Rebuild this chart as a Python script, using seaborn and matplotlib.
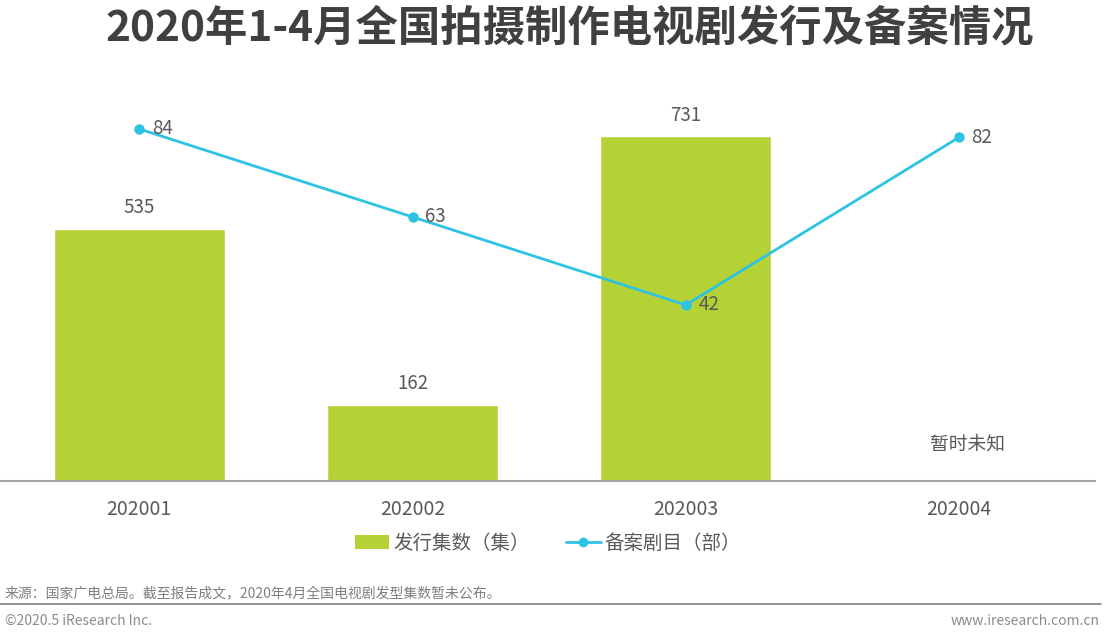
import matplotlib
matplotlib.use("Agg")
import matplotlib.pyplot as plt
import seaborn as sns
import pandas as pd
from matplotlib.patches import Patch
from matplotlib.lines import Line2D

months = ["202001", "202002", "202003", "202004"]
episodes = [535, 162, 731, None]      # 发行集数（集）
records = [84, 63, 42, 82]            # 备案剧目（部）
bar_label = "发行集数（集）"
line_label = "备案剧目（部）"
title = "2020年1-4月全国拍摄制作电视剧发行及备案情况"
unknown_note = "暂时未知"
source = "来源：国家广电总局。截至报告成文，2020年4月全国电视剧发型集数暂未公布。"
copyright_txt = "©2020.5 iResearch Inc."
site = "www.iresearch.com.cn"

sns.set_theme(style="white")
plt.rcParams["font.family"] = ["Noto Sans CJK SC", "DejaVu Sans"]

GREEN = "#b4d136"
CYAN = "#2fc3e3"
GRAY = "#595959"

df = pd.DataFrame({"month": months, "episodes": episodes, "records": records})

fig = plt.figure(figsize=(11.07, 6.42), dpi=100)
ax = fig.add_axes([0.0, 1 - 481 / 642, 0.9896, 391 / 642])

sns.barplot(data=df, x="month", y="episodes", order=months, color=GREEN,
            width=0.625, saturation=1, ax=ax)
ax.set_xlim(-0.51, 3.5)
ax.set_ylim(0, 828.5)

ax2 = ax.twinx()
sns.pointplot(data=df, x="month", y="records", order=months, color=CYAN,
              markers="o", markersize=6, linewidth=2, ax=ax2)
ax2.set_ylim(0, 93.3)
ax2.set_xlim(-0.51, 3.5)

for a in (ax, ax2):
    a.set_xlabel("")
    a.set_ylabel("")
    a.set_yticks([])
    for s in ("top", "right", "left", "bottom"):
        a.spines[s].set_visible(False)
ax.spines["bottom"].set_visible(True)
ax.spines["bottom"].set_color("#a6a6a6")
ax.spines["bottom"].set_linewidth(1.5)

ax.tick_params(axis="x", length=0, pad=13, labelsize=14, labelcolor=GRAY)
ax2.tick_params(axis="x", length=0)

for i, v in enumerate(episodes):
    if v is not None:
        ax.text(i, v + 22, f"{v}", ha="center", va="bottom", fontsize=13.5, color=GRAY)
    else:
        ax.text(i + 0.03, 78, unknown_note, ha="center", va="center", fontsize=13.5, color=GRAY)

for i, v in enumerate(records):
    ax2.annotate(f"{v}", (i, v), xytext=(9, 0), textcoords="offset points",
                 ha="left", va="center", fontsize=13.5, color=GRAY)

fig.text(0.515, 1 - 28 / 642, title, ha="center", va="center", fontsize=30.5,
         fontweight="bold", color="#404040")

handles = [Patch(facecolor=GREEN, edgecolor="none"),
           Line2D([0], [0], color=CYAN, lw=2, marker="o", markersize=6)]
fig.legend(handles, [bar_label, line_label], loc="center",
           bbox_to_anchor=(548 / 1107, 1 - 543 / 642), ncol=2, frameon=False,
           fontsize=14, labelcolor=GRAY, handlelength=1.75, handletextpad=0.2,
           columnspacing=1.9)

fig.add_artist(Line2D([0.0, 0.995], [1 - 604 / 642, 1 - 604 / 642],
                      transform=fig.transFigure, color="#7f7f7f", lw=1.2))
fig.text(5 / 1107, 1 - 593 / 642, source, ha="left", va="center", fontsize=10, color="#7f7f7f")
fig.text(5 / 1107, 1 - 621 / 642, copyright_txt, ha="left", va="center", fontsize=10, color="#8c8c8c")
fig.text(1100 / 1107, 1 - 621 / 642, site, ha="right", va="center", fontsize=10, color="#8c8c8c")

fig.savefig("out.png", dpi=100)
